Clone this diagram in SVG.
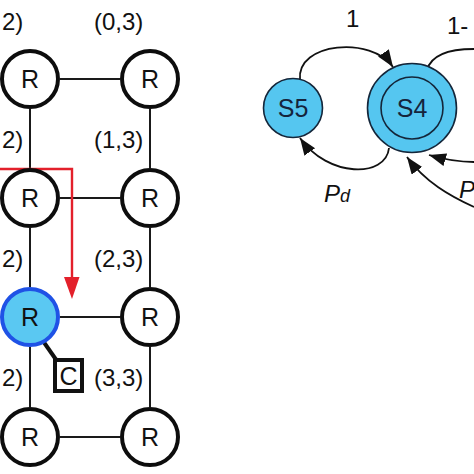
<svg xmlns="http://www.w3.org/2000/svg" width="474" height="474" viewBox="0 0 474 474">
<defs>
<style>
.lbl{font-family:"Liberation Sans",Arial,sans-serif;font-size:24px;fill:#111}
.rt{font-family:"Liberation Sans",Arial,sans-serif;font-size:25px;fill:#111;text-anchor:middle}
.st{font-family:"Liberation Sans",Arial,sans-serif;font-size:25px;fill:#15243c;text-anchor:middle}
.rn{fill:#fff;stroke:#0d0d0d;stroke-width:4}
.gl{stroke:#1a1a1a;stroke-width:2;fill:none}
.arc{stroke:#111;stroke-width:1.8;fill:none}
.sn{fill:#55c6f0;stroke:#14263a;stroke-width:1.6}
</style>
<marker id="ah" markerUnits="userSpaceOnUse" markerWidth="18" markerHeight="14" refX="17" refY="6.5" orient="auto">
<path d="M0 0 L17 6.5 L0 13 Z" fill="#111"/>
</marker>
</defs>
<rect width="474" height="474" fill="#fff"/>
<g id="connectors">
<path class="gl" d="M60 79H120M60 198H120M60 317H120M60 437H120M30 109V168M30 228V287M30 347V407M150 109V168M150 228V287M150 347V407"/>
<path d="M0 169H72V280" stroke="#e3202b" stroke-width="2.4" fill="none"/>
<polygon points="64,277 79.5,277 72,299" fill="#e3202b"/>
<path d="M43 341L57 361" stroke="#111" stroke-width="4"/>
<path class="arc" d="M300 80C296 42 372 36 393 67" marker-end="url(#ah)"/>
<path class="arc" d="M389 148C386 178 328 178 300 138" marker-end="url(#ah)"/>
<path class="arc" d="M427 70C432 52 455 49 474 49"/>
<path class="arc" d="M474 162C460 162 446 160 429 155" marker-end="url(#ah)"/>
<path class="arc" d="M474 207C450 196 425 182 407 157" marker-end="url(#ah)"/>
</g>
<g id="labels">
<text class="lbl" x="2" y="30">2)</text>
<text class="lbl" x="94" y="30">(0,3)</text>
<text class="lbl" x="2" y="148">2)</text>
<text class="lbl" x="94" y="148">(1,3)</text>
<text class="lbl" x="2" y="267">2)</text>
<text class="lbl" x="94" y="267">(2,3)</text>
<text class="lbl" x="2" y="386">2)</text>
<text class="lbl" x="94" y="386">(3,3)</text>
<text class="lbl" x="346" y="27">1</text>
<text class="lbl" x="447" y="34">1-</text>
<text class="lbl" x="324" y="202" font-style="italic">P<tspan font-size="18">d</tspan></text>
<text class="lbl" x="459" y="198" font-style="italic">P</text>
</g>
<g id="r00"><circle class="rn" cx="30" cy="79" r="28"/><text class="rt" x="30" y="88">R</text></g>
<g id="r03"><circle class="rn" cx="150" cy="79" r="28"/><text class="rt" x="150" y="88">R</text></g>
<g id="r10"><circle class="rn" cx="30" cy="198" r="28"/><text class="rt" x="30" y="207">R</text></g>
<g id="r13"><circle class="rn" cx="150" cy="198" r="28"/><text class="rt" x="150" y="207">R</text></g>
<g id="r20"><circle cx="30" cy="317" r="28" fill="#5ac8f2" stroke="#1f52e6" stroke-width="4"/><text class="rt" x="30" y="326">R</text></g>
<g id="r23"><circle class="rn" cx="150" cy="317" r="28"/><text class="rt" x="150" y="326">R</text></g>
<g id="r30"><circle class="rn" cx="30" cy="437" r="28"/><text class="rt" x="30" y="446">R</text></g>
<g id="r33"><circle class="rn" cx="150" cy="437" r="28"/><text class="rt" x="150" y="446">R</text></g>
<g id="c"><rect x="55" y="360" width="27" height="31" fill="#fff" stroke="#111" stroke-width="4"/><text class="rt" x="68.5" y="385">C</text></g>
<g id="s5"><circle class="sn" cx="293" cy="108" r="29.5"/><text class="st" x="293" y="117">S5</text></g>
<g id="s4"><circle class="sn" cx="412" cy="108" r="44.5"/><circle class="sn" cx="412" cy="108" r="31"/><text class="st" x="412" y="117">S4</text></g>
</svg>
